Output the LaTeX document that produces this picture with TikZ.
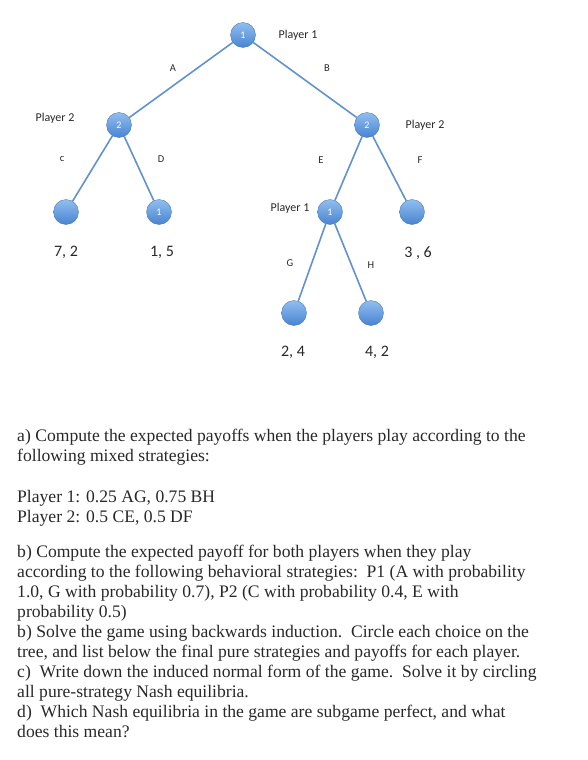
\documentclass[tikz,border=0pt]{standalone}
\usepackage{fontspec}
\setmainfont{Liberation Serif}
\newfontfamily\labelfont{Carlito}
\usetikzlibrary{positioning}
\definecolor{nodetop}{RGB}{145,190,238}
\definecolor{nodebot}{RGB}{72,132,210}
\definecolor{edgeblue}{RGB}{96,146,206}
\definecolor{inktext}{RGB}{40,40,40}

\begin{document}
\begin{tikzpicture}[x=1pt, y=-1pt,
        move/.style={circle, minimum size=25pt, inner sep=0pt, top color=nodetop, bottom color=nodebot, draw=nodebot!85!black, line width=0.3pt, text=white, font=\labelfont\fontsize{10}{10}\selectfont},
        branch/.style={edgeblue, line width=1.6pt},
        who/.style={font=\labelfont\fontsize{12}{12}\selectfont, text=inktext},
        act/.style={font=\labelfont\fontsize{10.5}{10.5}\selectfont, text=inktext},
        pay/.style={font=\labelfont\fontsize{16}{16}\selectfont, text=inktext},
        task/.style={anchor=base west, align=left, inner sep=0pt, text=inktext, font=\fontsize{17.6}{19.9}\selectfont}
    ]
        \useasboundingbox (0,0) rectangle (588,760);

        % Root
        \node[move] (root) at (243, 35) {1};
        \node[who] (rootlbl) at (298, 35) {Player 1};

        % Player 2 nodes
        \node[move] (p2l) at (119, 125) {2};
        \node[who] (p2llbl) at (55, 118) {Player 2};
        \node[move] (p2r) at (367, 125) {2};
        \node[who] (p2rlbl) at (425, 125) {Player 2};

        % Second level
        \node[move] (leafc) at (66, 212) {};
        \node[move] (leafd) at (159, 212) {1};
        \node[move] (p1) at (330, 212) {1};
        \node[who] (p1lbl) at (290, 208) {Player 1};
        \node[move] (leaff) at (412, 212) {};

        % Bottom leaves
        \node[move] (leafg) at (294, 313) {};
        \node[move] (leafh) at (371, 313) {};

        % Branches
        \draw[branch] (root) -- (p2l);
        \draw[branch] (root) -- (p2r);
        \draw[branch] (p2l) -- (leafc);
        \draw[branch] (p2l) -- (leafd);
        \draw[branch] (p2r) -- (p1);
        \draw[branch] (p2r) -- (leaff);
        \draw[branch] (p1) -- (leafg);
        \draw[branch] (p1) -- (leafh);

        % Action labels
        \node[act] (actA) at (173, 68) {A};
        \node[act] (actB) at (327, 68) {B};
        \node[act] (actC) at (62, 159) {c};
        \node[act] (actD) at (161, 159) {D};
        \node[act] (actE) at (321, 160) {E};
        \node[act] (actF) at (420, 160) {F};
        \node[act] (actG) at (290, 263) {G};
        \node[act] (actH) at (371, 265) {H};

        % Payoffs
        \node[pay] (payc) at (66, 252) {7, 2};
        \node[pay] (payd) at (162, 252) {1, 5};
        \node[pay] (payf) at (418, 253) {3 , 6};
        \node[pay] (payg) at (293, 352) {2, 4};
        \node[pay] (payh) at (377, 352) {4, 2};

        % Questions (placed at the baseline of their last line)
        \node[task] (qa) at (17, 461.5) {a) Compute the expected payoffs when the players play according to the\\
            following mixed strategies:};
        \node[task] (qmix) at (17, 522) {Player 1: 0.25 AG, 0.75 BH\\
            Player 2: 0.5 CE, 0.5 DF};
        \node[task] (qb) at (17, 737) {b) Compute the expected payoff for both players when they play\\
            according to the following behavioral strategies:\ \ P1 (A with probability\\
            1.0, G with probability 0.7), P2 (C with probability 0.4, E with\\
            probability 0.5)\\
            b) Solve the game using backwards induction.\ \ Circle each choice on the\\
            tree, and list below the final pure strategies and payoffs for each player.\\
            c)\ \ Write down the induced normal form of the game.\ \ Solve it by circling\\
            all pure-strategy Nash equilibria.\\
            d)\ \ Which Nash equilibria in the game are subgame perfect, and what\\
            does this mean?};
    \end{tikzpicture}
\end{document}
